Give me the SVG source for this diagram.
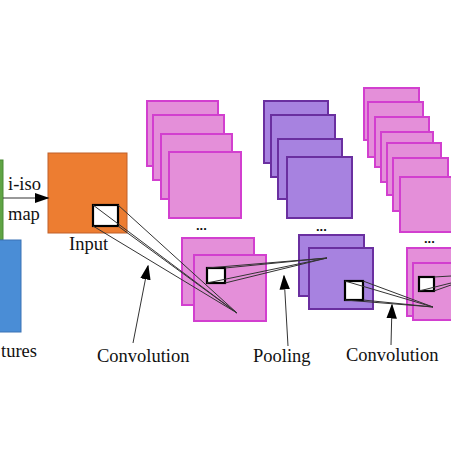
<svg xmlns="http://www.w3.org/2000/svg" width="451" height="451" viewBox="0 0 451 451">
<defs>
<style>
.t{font-family:"Liberation Serif","Times New Roman",serif;font-size:18.5px;fill:#111}
.d{font-family:"Liberation Sans",Arial,sans-serif;font-size:13px;font-weight:bold;fill:#111}
.pk{fill:#e48fd9;stroke:#d23fcf;stroke-width:2}
.pu{fill:#a782e0;stroke:#6a2fa0;stroke-width:2}
.wb{fill:#fff;stroke:#000;stroke-width:2.2}
.ln{stroke:#333;stroke-width:1;fill:none}
.ar{stroke:#333;stroke-width:1;fill:none}
</style>
<marker id="ah2" viewBox="0 0 10 10" refX="9" refY="5" markerWidth="15" markerHeight="15" orient="auto" markerUnits="userSpaceOnUse">
<path d="M0,1.5 L10,5 L0,8.5 z" fill="#000"/>
</marker>
</defs>
<rect width="451" height="451" fill="#fff"/>

<g id="features">
<rect x="-10" y="160" width="13" height="80" fill="#5fa444" stroke="#4b8a34" stroke-width="1"/>
<rect x="-10" y="240" width="31" height="92" fill="#4a8dd6" stroke="#3a73b5" stroke-width="1"/>
<text class="t" x="1" y="357">tures</text>
</g>

<g id="input">
<rect x="48" y="153" width="79" height="80" fill="#ed7d31" stroke="#c0602a" stroke-width="1"/>
<rect class="wb" x="93" y="205" width="25" height="21"/>
<text class="t" x="69" y="250">Input</text>
</g>

<g id="conv1-maps">
<rect class="pk" x="147" y="101" width="71" height="65"/>
<rect class="pk" x="153" y="115" width="71" height="65"/>
<rect class="pk" x="161" y="134" width="71" height="65"/>
<rect class="pk" x="169" y="152" width="72" height="66"/>
<text class="d" x="196" y="230">...</text>
<rect class="pk" x="182" y="238" width="72" height="67"/>
<rect class="pk" x="194" y="255" width="72" height="66"/>
<rect class="wb" x="207" y="268" width="18" height="15"/>
</g>

<g id="pool-maps">
<rect class="pu" x="264" y="101" width="64" height="62"/>
<rect class="pu" x="271" y="115" width="64" height="62"/>
<rect class="pu" x="278" y="139" width="64" height="60"/>
<rect class="pu" x="287" y="157" width="65" height="61"/>
<text class="d" x="316" y="231">...</text>
<rect class="pu" x="299" y="235" width="65" height="61"/>
<rect class="pu" x="309" y="248" width="64" height="61"/>
<rect class="wb" x="345" y="281" width="18" height="19"/>
</g>

<g id="conv2-maps">
<rect class="pk" x="364" y="88" width="55" height="52"/>
<rect class="pk" x="368" y="102" width="55" height="55"/>
<rect class="pk" x="375" y="117" width="54" height="50"/>
<rect class="pk" x="381" y="132" width="52" height="50"/>
<rect class="pk" x="387" y="143" width="54" height="52"/>
<rect class="pk" x="393" y="158" width="55" height="53"/>
<rect class="pk" x="400" y="177" width="60" height="55"/>
<text class="d" x="424" y="243">...</text>
<rect class="pk" x="407" y="248" width="60" height="68"/>
<rect class="pk" x="413" y="263" width="60" height="57"/>
<rect class="wb" x="419" y="277" width="15" height="14"/>
</g>

<g id="connectors">
<line class="ar" x1="3" y1="198" x2="48" y2="198" marker-end="url(#ah2)"/>
<line class="ln" x1="93" y1="205" x2="237" y2="313"/>
<line class="ln" x1="118" y1="205" x2="237" y2="313"/>
<line class="ln" x1="118" y1="226" x2="237" y2="313"/>
<line class="ln" x1="93" y1="226" x2="237" y2="313"/>
<line class="ln" x1="207" y1="268" x2="327" y2="258"/>
<line class="ln" x1="225" y1="268" x2="327" y2="258"/>
<line class="ln" x1="225" y1="283" x2="327" y2="258"/>
<line class="ln" x1="207" y1="283" x2="327" y2="258"/>
<line class="ln" x1="345" y1="281" x2="433" y2="307"/>
<line class="ln" x1="363" y1="281" x2="433" y2="307"/>
<line class="ln" x1="363" y1="300" x2="433" y2="307"/>
<line class="ln" x1="345" y1="300" x2="433" y2="307"/>
<line class="ln" x1="434" y1="277" x2="451" y2="276"/>
<line class="ln" x1="434" y1="291" x2="451" y2="285"/>
<line class="ln" x1="419" y1="291" x2="451" y2="283"/>
<line class="ar" x1="133" y1="343" x2="148" y2="266" marker-end="url(#ah2)"/>
<line class="ar" x1="288" y1="346" x2="284" y2="276" marker-end="url(#ah2)"/>
<line class="ar" x1="391" y1="345" x2="392" y2="305" marker-end="url(#ah2)"/>
</g>

<g id="labels">
<text class="t" x="8" y="190">i-iso</text>
<text class="t" x="8" y="220">map</text>
<text class="t" x="97" y="362">Convolution</text>
<text class="t" x="253" y="362">Pooling</text>
<text class="t" x="346" y="361">Convolution</text>
</g>
</svg>
